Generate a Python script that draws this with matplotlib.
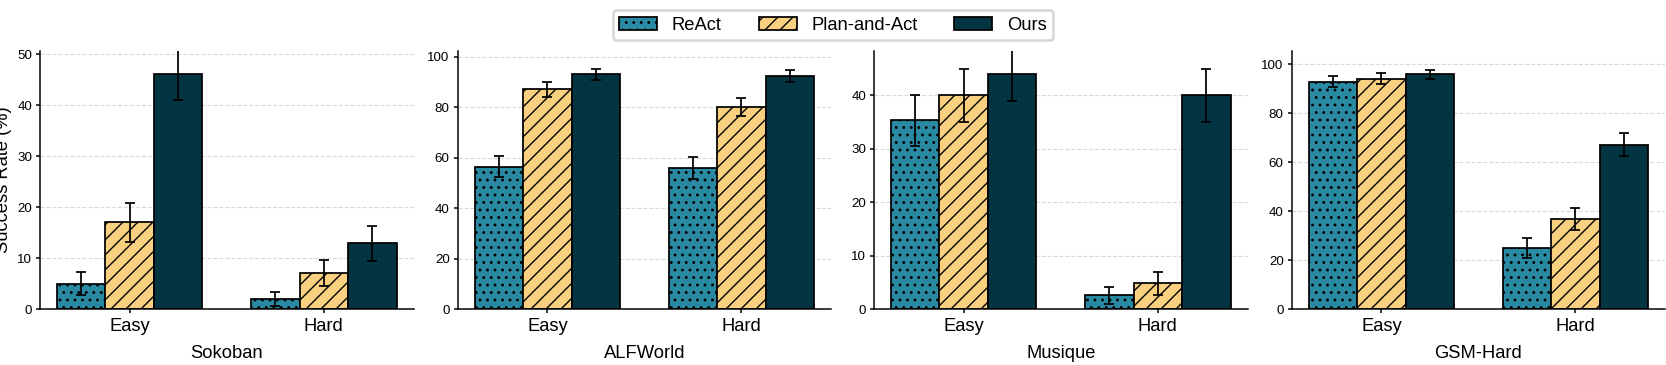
import numpy as np
import matplotlib
matplotlib.use("Agg")
import matplotlib.pyplot as plt
from matplotlib.patches import Patch

# -----------------------------
# DATA
# -----------------------------
TASKS = ["Sokoban", "ALFWorld", "Musique", "GSM-Hard"]
LEVELS = ["Easy", "Hard"]
METHODS = ["ReAct", "Plan-and-Act", "Ours"]

# mean success rate per task: [Easy, Hard]
react_mean = [[5.0, 2.0], [56.4, 56.0], [35.3, 2.6], [93.0, 24.9]]
plan_mean = [[17.0, 7.0], [87.1, 80.0], [40.0, 4.8], [94.2, 36.7]]
ours_mean = [[46.0, 12.9], [92.9, 92.3], [43.9, 40.0], [95.9, 67.1]]

# error bar half-widths
react_err = [[2.2, 1.35], [4.3, 4.4], [4.8, 1.6], [2.4, 4.2]]
plan_err = [[3.8, 2.55], [3.0, 3.6], [5.0, 2.1], [2.2, 4.6]]
ours_err = [[5.0, 3.45], [2.2, 2.2], [5.0, 5.0], [1.8, 4.7]]

# -----------------------------
# STYLE
# -----------------------------
COLORS = ["#2b8aa3", "#f8d07f", "#023441"]
HATCHES = ["....", "////", ""]
DPI = 180

plt.rcParams["font.family"] = ["Liberation Sans", "DejaVu Sans"]
plt.rcParams["hatch.linewidth"] = 0.55


def main():
    fig = plt.figure(figsize=(1666 / DPI, 365 / DPI), dpi=DPI)

    means = [react_mean, plan_mean, ours_mean]
    errs = [react_err, plan_err, ours_err]

    W, H = 1666.0, 365.0
    ax_w = 373.5 / W
    ax_h = (309 - 51) / H
    bottom = (H - 309) / H
    lefts = [40, 457.7, 874, 1291.7]

    x = np.arange(len(LEVELS))
    width = 0.25

    for ti, task in enumerate(TASKS):
        ax = fig.add_axes([lefts[ti] / W, bottom, ax_w, ax_h])
        ax.set_axisbelow(True)
        for mi in range(len(METHODS)):
            ax.bar(x + (mi - 1) * width, means[mi][ti], width,
                   yerr=errs[mi][ti], color=COLORS[mi], hatch=HATCHES[mi],
                   edgecolor="black", linewidth=0.7,
                   error_kw=dict(ecolor="black", elinewidth=0.7,
                                 capsize=2.1, capthick=0.7))

        top = max(max(m[ti]) for m in means) * 1.1
        ax.set_ylim(0, top)
        ax.set_xticks(x)
        ax.set_xticklabels(LEVELS, fontsize=7.36)
        ax.set_xlabel(task, fontsize=7.36, labelpad=4)
        ax.tick_params(axis="y", labelsize=5.35, length=1.6, width=0.6, pad=1.6)
        ax.tick_params(axis="x", length=1.6, width=0.6, pad=2)
        ax.grid(axis="y", linestyle="--", color="#d9d9d9", linewidth=0.45)
        ax.spines["top"].set_visible(False)
        ax.spines["right"].set_visible(False)
        ax.spines["left"].set_linewidth(0.6)
        ax.spines["bottom"].set_linewidth(0.6)

        if ti == 0:
            ax.set_ylabel("Success Rate (%)", fontsize=7.36)
            ax.yaxis.set_label_coords(-0.075, 0.5)

    handles = [Patch(facecolor=COLORS[i], edgecolor="black", hatch=HATCHES[i],
                     linewidth=0.7, label=METHODS[i]) for i in range(3)]
    fig.legend(handles=handles, loc="upper center", bbox_to_anchor=(0.5, 0.997),
               ncol=3, fontsize=7.36, frameon=True, fancybox=True,
               edgecolor="#cccccc", handlelength=2.07, handletextpad=0.8,
               columnspacing=2.0, borderpad=0.35)

    fig.savefig("out.png", dpi=DPI)


if __name__ == "__main__":
    main()
